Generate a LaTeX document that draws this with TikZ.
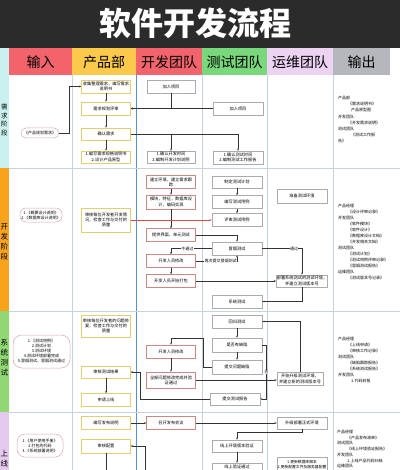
\documentclass[tikz,border=0pt]{standalone}
\usepackage{fontspec}
\setmainfont{Noto Sans CJK SC}
\XeTeXlinebreaklocale "zh"
\usetikzlibrary{arrows.meta,calc}

\definecolor{titlebg}{HTML}{2B2B2B}
\definecolor{hdred}{HTML}{F2636B}
\definecolor{hdyellow}{HTML}{FCC94B}
\definecolor{hdgreen}{HTML}{79D87B}
\definecolor{hdlilac}{HTML}{EBD3F1}
\definecolor{hdgray}{HTML}{B4B8BC}
\definecolor{phcyan}{HTML}{CBF1EE}
\definecolor{phorange}{HTML}{F8A31C}
\definecolor{phgreen}{HTML}{8FD873}
\definecolor{phlilac}{HTML}{E6C9EE}
\definecolor{gridline}{HTML}{C8D2DC}
\definecolor{blueline}{HTML}{5A8ED2}
\definecolor{prodline}{HTML}{E3CF72}
\definecolor{devline}{HTML}{C98A80}
\definecolor{pillline}{HTML}{D8A8B0}
\definecolor{redflow}{HTML}{E0474C}

\begin{document}
\begin{tikzpicture}[x=1pt,y=-1pt,
    flow/.style={draw=black!80, line width=0.4pt, -{Stealth[length=2.2pt,width=1.8pt]}},
    box/.style={draw, line width=0.5pt, fill=white, minimum width=49pt, minimum height=13pt,
        align=center, inner sep=0.5pt, font=\fontsize{4.2}{5.2}\selectfont},
    prodbox/.style={box, draw=prodline},
    devbox/.style={box, draw=gray!65},
    devredbox/.style={box, draw=devline},
    testbox/.style={box, draw=gray!65, minimum width=50pt},
    opsbox/.style={box, draw=gray!65, minimum width=50pt},
    inpill/.style={draw=pillline, line width=0.5pt, rounded corners=5pt, fill=white, align=center,
        inner sep=1pt, font=\fontsize{4}{5}\selectfont},
    outtext/.style={anchor=north west, align=left, inner sep=0pt, font=\fontsize{4}{6}\selectfont},
    lbl/.style={font=\fontsize{4}{4}\selectfont, fill=white, inner sep=0.4pt},
    head/.style={font=\fontsize{14}{14}\selectfont},
    phase/.style={align=center, text width=8pt, inner sep=0pt}
]
    % Fix the page size
    \useasboundingbox (0,0) rectangle (400,470);

    % Title bar
    \fill[titlebg] (0,0) rectangle (400,48.5);
    \node[text=white, font=\fontsize{32}{32}\selectfont\bfseries] (title) at (195,23) {软件开发流程};

    % Header cells
    \fill[phcyan] (0,48.5) rectangle (9,75);
    \fill[hdred] (9,48.5) rectangle (72,75);
    \fill[hdyellow] (72,48.5) rectangle (136,75);
    \fill[hdred] (136,48.5) rectangle (202,75);
    \fill[hdgreen] (202,48.5) rectangle (267,75);
    \fill[hdlilac] (267,48.5) rectangle (333,75);
    \fill[hdgray] (333,48.5) rectangle (390,75);
    \node[head] (hIn) at (40.5,62) {输入};
    \node[head] (hProd) at (104,62) {产品部};
    \node[head] (hDev) at (169,62) {开发团队};
    \node[head] (hTest) at (234.5,62) {测试团队};
    \node[head] (hOps) at (300,62) {运维团队};
    \node[head] (hOut) at (361.5,62) {输出};

    % Phase strips
    \fill[phcyan] (0,75) rectangle (9,168);
    \fill[phorange] (0,168) rectangle (9,311);
    \fill[phgreen] (0,311) rectangle (9,412);
    \fill[phlilac] (0,412) rectangle (9,470);
    \node[phase, font=\fontsize{6.5}{8.5}\selectfont] (ph1) at (4.5,120) {需\\求\\阶\\段};
    \node[phase, font=\fontsize{7.5}{10}\selectfont] (ph2) at (4.5,242) {开\\发\\阶\\段};
    \node[phase, font=\fontsize{7.5}{10}\selectfont] (ph3) at (4.5,358) {系\\统\\测\\试};
    \node[phase, font=\fontsize{7.5}{10}\selectfont] (ph4) at (4.5,459) {上\\线};

    % Grid lines
    \foreach \x in {72,202,267,333}
        \draw[gridline, line width=0.6pt] (\x,75) -- (\x,470);
    \draw[blueline, line width=0.6pt] (136,75) -- (136,470);
    \foreach \y in {168,311,412}
        \draw[gridline, line width=0.6pt] (9,\y) -- (400,\y);

    % ---------------- 需求阶段 ----------------
    \node[inpill, minimum width=38pt, minimum height=10pt] (in1) at (40,133) {《产品规划需求》};
    \node[prodbox] (p1) at (106,86.5) {收集整理需求，编写需求\\说明书};
    \node[prodbox] (p2) at (106,108.5) {需求规划评审};
    \node[prodbox, minimum height=12pt] (p3) at (106,134) {确认需求};
    \node[prodbox, minimum height=12pt] (p4) at (106,157) {1.编写需求规格说明书\\2.设计产品原型};
    \node[devbox, minimum width=48pt] (d1) at (171,86.5) {加入项目};
    \node[devbox, minimum width=48pt, minimum height=12pt] (d2) at (171,157) {1.确认开发时间\\2.编制开发计划说明};
    \node[testbox] (t1) at (238,108.5) {加入项目};
    \node[testbox] (t2) at (238,157.5) {1.确认测试时间\\2.编制测试工作报告};
    \node[outtext, font=\fontsize{4}{6.2}\selectfont] (out1) at (338,96)
        {产品部\\\hspace*{10pt}《需求说明书》\\\hspace*{13pt}产品原型图\\开发团队\\
         \hspace*{10pt}《开发需求说明》\\测试团队\\\hspace*{13pt}《测试工作报\\告》};

    \draw[flow] (in1.east) -- ++(10,0) |- (p1.west);
    \draw[flow] (p1.south) -- (p2.north);
    \draw[flow] (p2.south) -- (p3.north);
    \draw[flow] (p3.south) -- (p4.north);
    \draw[flow] (d1.south) |- (p2.east);
    \draw[flow] (t1.west) -- (p2.east);
    \draw[flow] (p3.east) -| (t2.north);
    \draw[flow] (d2.north |- p3.east) -- (d2.north);

    % ---------------- 开发阶段 ----------------
    \node[inpill, minimum width=42pt, minimum height=14pt, rounded corners=6pt] (in2) at (41,215)
        {1.《概要设计说明》\\2.《数据库设计说明》};
    \node[prodbox, minimum height=24pt] (p5) at (106,220) {审核每位开发者开发情\\况，检查工作与交付的\\质量};
    \node[devredbox] (d3) at (171,182) {建立环境，建立需求跟\\踪};
    \node[devredbox, minimum height=14pt] (d4) at (171,202) {模块，特征，数据库设\\计，编码实现};
    \node[devredbox] (d5) at (171,235) {提供界面，单元测试};
    \node[devredbox] (d6) at (171,261) {开发人员修改};
    \node[devredbox] (d7) at (171,281) {开发人员开始打包};
    \node[testbox, minimum height=12pt] (t3) at (237,182) {制定测试计划};
    \node[testbox] (t4) at (237,202) {编写测试用例};
    \node[testbox] (t5) at (237,220) {评审测试用例};
    \node[testbox] (t6) at (237,248.5) {冒烟测试};
    \node[testbox] (t7) at (237,301.5) {系统测试};
    \node[opsbox, minimum height=14pt] (o1) at (302,196) {准备测试环境};
    \node[opsbox, minimum height=12pt] (o2) at (302,281) {部署系统测试的测试环境，\\并建立测试版本号};
    \node[outtext] (out2) at (338,204)
        {产品经理\\\hspace*{10pt}《设计评审记录》\\开发团队\\\hspace*{10pt}《软件模块》\\
         \hspace*{10pt}《软件设计》\\\hspace*{10pt}《数据库设计文档》\\\hspace*{10pt}《开发相关文档》\\
         测试团队\\\hspace*{10pt}《测试计划》\\\hspace*{10pt}《测试用例评审记录》\\
         \hspace*{10pt}《冒烟测试报告》\\运维团队\\\hspace*{10pt}《测试版本号记录》};

    \draw[flow] (d3.south) -- (d4.north);
    \draw[flow] (d4.south) -- (d5.north);
    \draw[flow] (d6.south) -- (d7.north);
    \draw[flow] (t3.south) -- (t4.north);
    \draw[flow] (t4.south) -- (t5.north);
    \draw[flow, draw=redflow] (p5.east) -- (t5.west);
    \draw[flow] (d5.east) -| (t6.north);
    \draw[flow] (t6.west) -| (d6.north) node[lbl, pos=0.3] {不通过};
    \draw[flow] (d6.east) -| (t6.south) node[lbl, pos=0.3] {再次提交冒烟测试};
    \draw[flow] (t6.east) -| (o2.north) node[lbl, pos=0.4] {通过};
    \draw[flow] (d7.east) -- (o2.west);
    \draw[flow] (o2.south) |- (t7.east);

    % ---------------- 系统测试 ----------------
    \node[inpill, minimum width=57pt, minimum height=33pt, rounded corners=9pt] (in3) at (41.5,351.5)
        {1.《测试用例》\\2.测试计划\\3.测试环境\\4.测试环境部署完成\\5.冒烟测试，冒烟测试通过};
    \node[prodbox, minimum height=22pt] (p6) at (106,326) {审核每位开发者的问题修\\复，检查工作与交付的\\质量};
    \node[prodbox, minimum height=12pt] (p7) at (106,372) {审核测试结果};
    \node[prodbox] (p8) at (106,400) {申请上线};
    \node[devredbox] (d8) at (171,351.5) {开发人员修改};
    \node[devredbox, minimum height=16pt] (d9) at (171,380) {全部问题修改完成并验\\证通过};
    \node[testbox] (t8) at (237,321.5) {回归测试};
    \node[testbox, minimum height=14pt] (t9) at (237,345) {是否有缺陷};
    \node[testbox, minimum height=14pt] (t10) at (237,367) {提交问题缺陷};
    \node[testbox, minimum height=12pt] (t11) at (235,399) {提交测试报告};
    \node[opsbox, minimum width=46pt] (o3) at (300,379) {开始升级测试环境，\\并建立新的测试版本号};
    \node[outtext] (out3) at (338,337)
        {产品经理\\\hspace*{10pt}《上线申请》\\\hspace*{10pt}《审核工作记录》\\测试团队\\
         \hspace*{10pt}《缺陷跟踪报告》\\\hspace*{10pt}《系统测试报告》\\开发团队\\\hspace*{13pt}1.代码封板};

    \coordinate (c1) at (203,338);
    \coordinate (c2) at (140,372);
    \draw[flow] (t10.west) -| (c1) -| (d8.north);
    \draw[flow] (d8.south) -- (d9.north);
    \draw[flow] (d9.east) -- (d9.east -| o3.west);
    \draw[flow] (o3.north) |- (t8.east);
    \draw[flow] (t8.south) -- (t9.north);
    \draw[flow] (t9.south) -- (t10.north);
    \draw[flow] (t9.east) -- ++(4,0) |- (t11.east) node[lbl, pos=0.25] {否};
    \draw[flow] (t11.west) -| (c2) -- (p7.east);
    \draw[flow] (p7.south) -- (p8.north);

    % ---------------- 上线 ----------------
    \node[inpill, minimum width=46pt, minimum height=23pt, rounded corners=8pt] (in4) at (40,445.5)
        {1.《用户使用手册》\\2.打包的代码\\3.《系统部署说明》};
    \node[prodbox] (p9) at (106,423) {编写发布说明};
    \node[prodbox, minimum height=14pt] (p10) at (106,446) {审核配置};
    \node[devredbox] (d10) at (171,423) {召开发布会议};
    \node[opsbox, minimum height=12pt] (o4) at (302,423) {升级部署正式环境};
    \node[testbox, minimum height=12pt] (t12) at (237,446) {线上环境版本验证};
    \node[testbox, minimum height=8pt] (t13) at (237,467) {线上验证通过};
    \node[opsbox, minimum height=16pt, font=\fontsize{3.8}{5}\selectfont] (o5) at (302,465)
        {1.更新数据库脚本\\2.更新配置文件及服务器配置};
    \node[outtext, font=\fontsize{4}{5.7}\selectfont] (out4) at (337,430)
        {产品经理\\\hspace*{10pt}《产品发布清单》\\测试团队\\\hspace*{10pt}《线上环境验证报告》\\
         开发团队\\\hspace*{10pt}1.上线产品代码归档\\运维团队};

    \coordinate (c3) at (145,470);
    \coordinate (c5) at (106,470);
    \draw[flow] (p9.east) -- (d10.west);
    \draw[flow] (d10.east) -- (o4.west);
    \draw[flow] (o4.south) -- ++(0,3) -| (t12.north);
    \draw[flow] (t12.south) -- (t13.north);
    \draw[flow] (c3) |- (p10.east);
    \draw[line width=0.4pt, black!80] (p10.south) -- (c5);
\end{tikzpicture}
\end{document}
